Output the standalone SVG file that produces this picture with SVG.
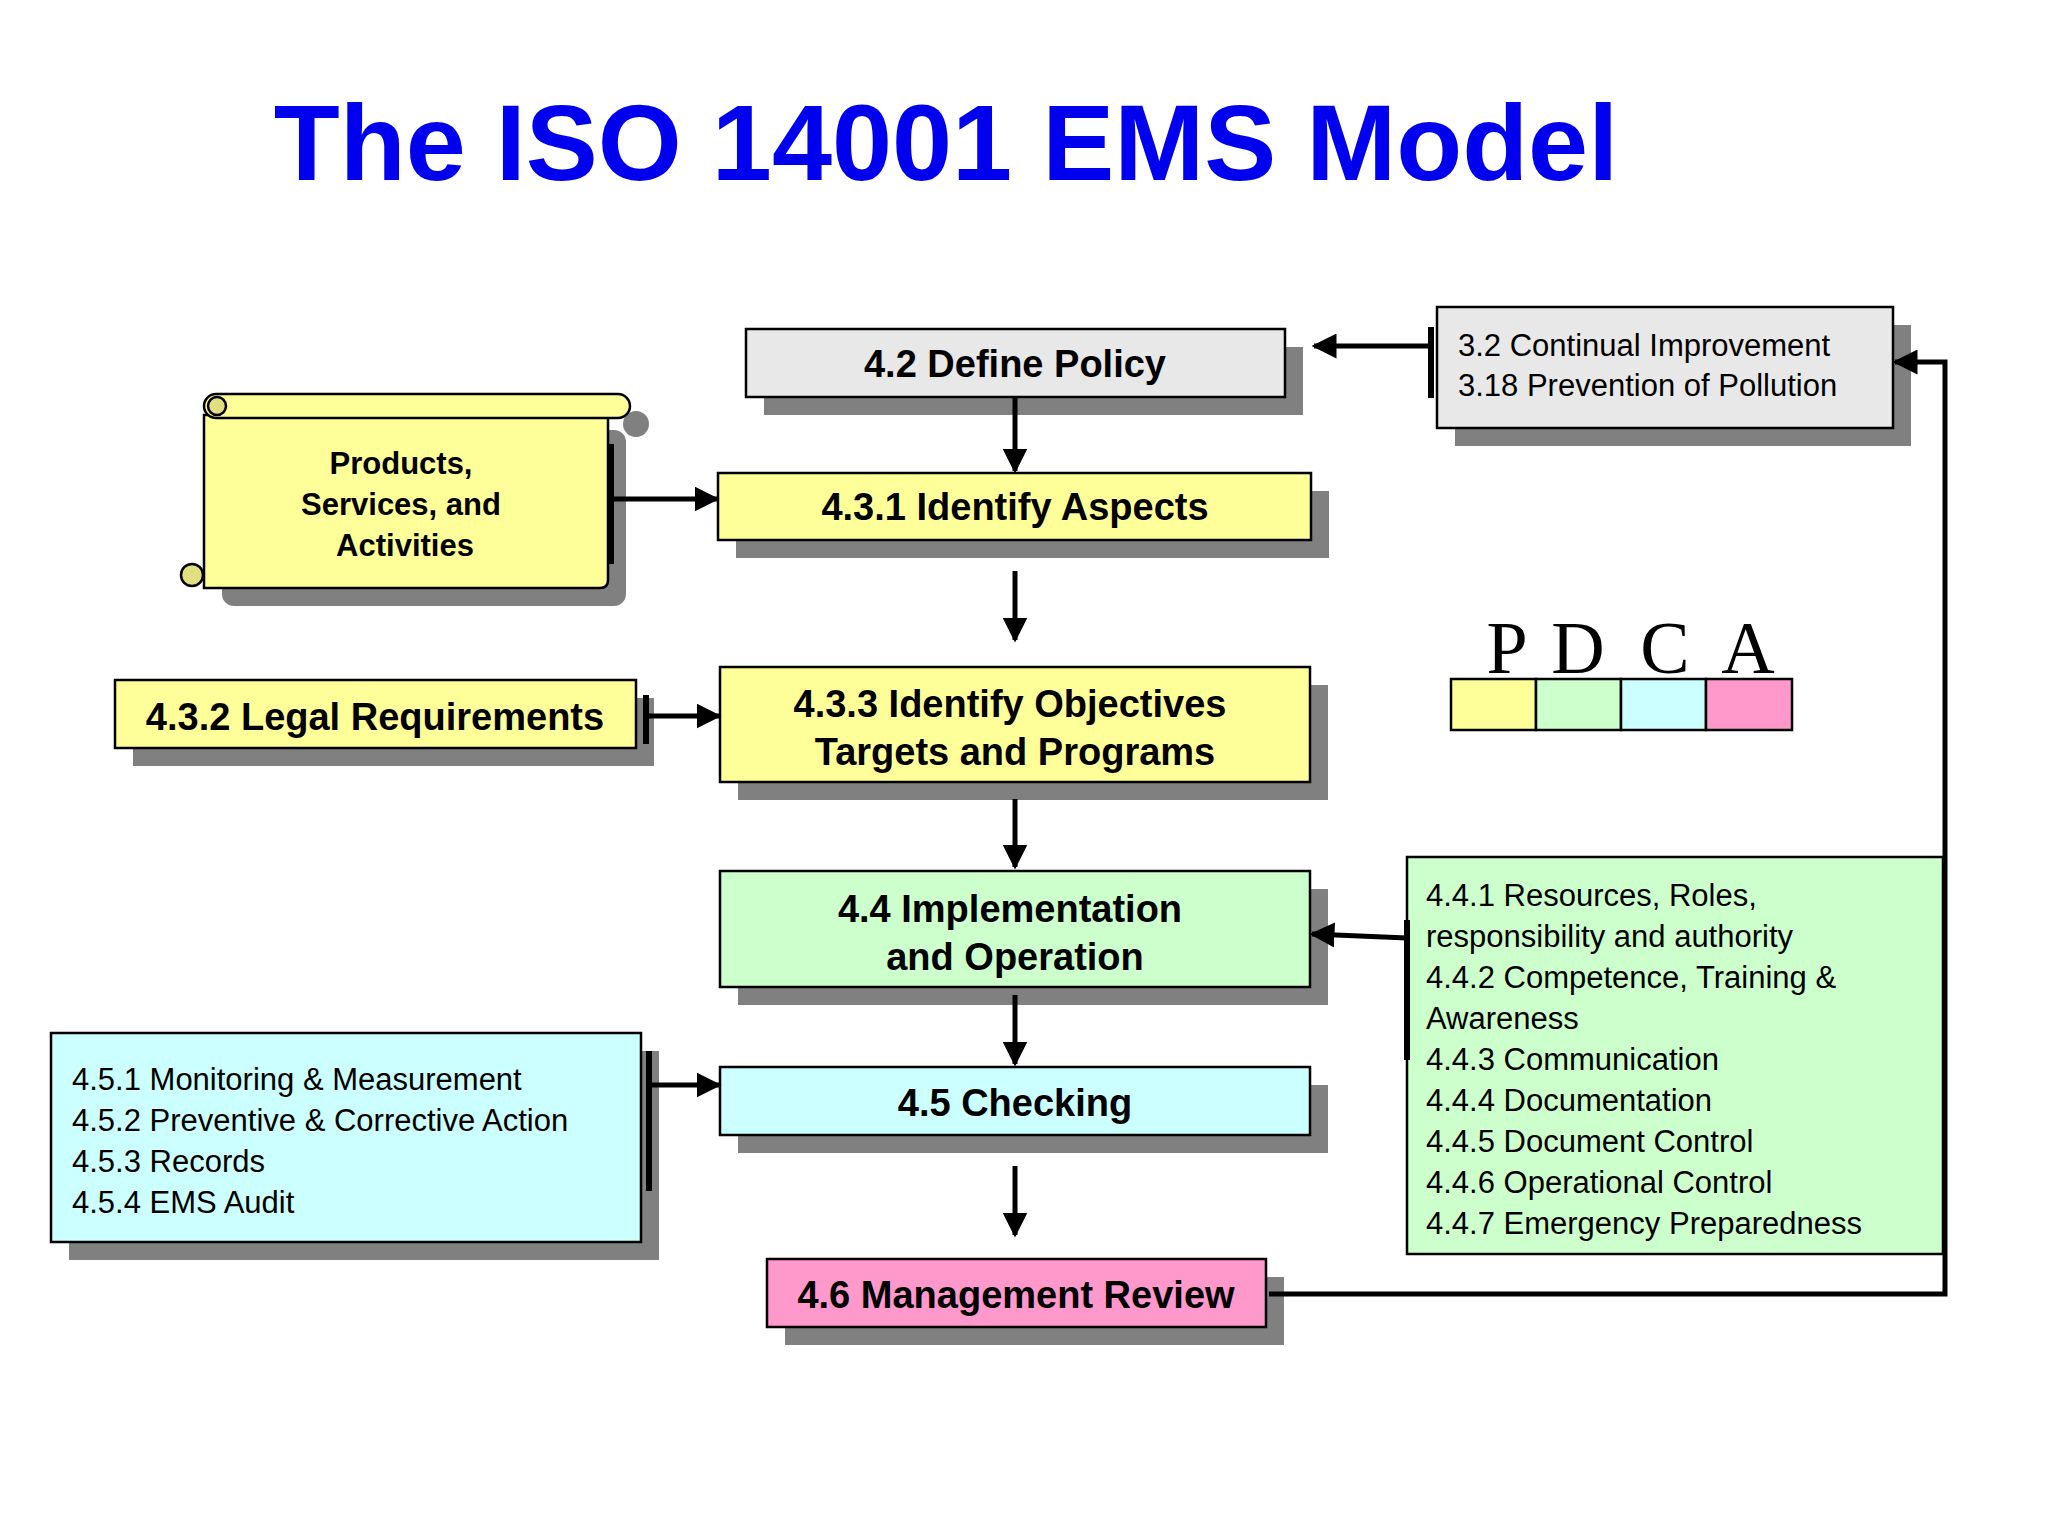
<svg xmlns="http://www.w3.org/2000/svg" width="2048" height="1536" viewBox="0 0 2048 1536">
<style>
.sh{fill:#808080}
.bx{stroke:#000;stroke-width:2.5}
.t{font-family:"Liberation Sans",Arial,sans-serif;font-weight:bold;font-size:38px;fill:#000;text-anchor:middle}
.r{font-family:"Liberation Sans",Arial,sans-serif;font-size:31px;fill:#000}
.c{fill:none;stroke:#000;stroke-width:5}
.bar{stroke:#000;stroke-width:6}
.pd{font-family:"Liberation Serif","Times New Roman",serif;font-size:74px;fill:#000;text-anchor:middle}
</style>
<defs>
<marker id="ah" markerWidth="5" markerHeight="5" refX="4.5" refY="2.5" orient="auto" markerUnits="strokeWidth">
<path d="M0,0 L5,2.5 L0,5 z" fill="#000"/>
</marker>
</defs>
<rect width="2048" height="1536" fill="#fff"/>
<text x="946" y="180" font-family="Liberation Sans,Arial,sans-serif" font-weight="bold" font-size="108" fill="#0000ee" text-anchor="middle">The ISO 14001 EMS Model</text>

<g id="define-policy"><rect class="sh" x="764" y="347" width="539" height="68"/><rect class="bx" x="746" y="329" width="539" height="68" fill="#e8e8e8"/><text class="t" x="1015" y="377">4.2 Define Policy</text></g>
<g id="continual"><rect class="sh" x="1455" y="325" width="456" height="121"/><rect class="bx" x="1437" y="307" width="456" height="121" fill="#e8e8e8"/><text class="r" x="1458" y="356">3.2 Continual Improvement</text><text class="r" x="1458" y="396">3.18 Prevention of Pollution</text></g>

<g id="scroll">
<rect class="sh" x="222" y="430" width="404" height="176" rx="12"/>
<circle class="sh" cx="636" cy="424" r="13"/>
<path class="bx" d="M204,415 L608,415 L608,580 Q608,588 600,588 L204,588 Z" fill="#ffff99"/>
<rect class="bx" x="204" y="394" width="426" height="24" rx="12" fill="#ffff99"/>
<circle class="bx" cx="217" cy="406" r="9" fill="#e0e080"/>
<circle class="bx" cx="192" cy="575" r="11" fill="#e0e080"/>
<text class="t" style="font-size:31px" x="401" y="474">Products,</text>
<text class="t" style="font-size:31px" x="401" y="515">Services, and</text>
<text class="t" style="font-size:31px" x="405" y="556">Activities</text>
</g>

<g id="aspects"><rect class="sh" x="736" y="491" width="593" height="67"/><rect class="bx" x="718" y="473" width="593" height="67" fill="#ffff99"/><text class="t" x="1015" y="520">4.3.1 Identify Aspects</text></g>
<g id="legal"><rect class="sh" x="133" y="698" width="521" height="68"/><rect class="bx" x="115" y="680" width="521" height="68" fill="#ffff99"/><text class="t" x="375" y="730">4.3.2 Legal Requirements</text></g>
<g id="objectives"><rect class="sh" x="738" y="685" width="590" height="115"/><rect class="bx" x="720" y="667" width="590" height="115" fill="#ffff99"/><text class="t" x="1010" y="717">4.3.3 Identify Objectives</text><text class="t" x="1015" y="765">Targets and Programs</text></g>

<g id="pdca">
<text class="pd" x="1507" y="673">P</text><text class="pd" x="1578" y="673">D</text><text class="pd" x="1665" y="673">C</text><text class="pd" x="1748" y="673">A</text>
<rect class="bx" x="1451" y="679" width="85" height="51" fill="#ffff99"/>
<rect class="bx" x="1536" y="679" width="85" height="51" fill="#ccffcc"/>
<rect class="bx" x="1621" y="679" width="85" height="51" fill="#ccffff"/>
<rect class="bx" x="1706" y="679" width="86" height="51" fill="#ff99cc"/>
</g>

<g id="implementation"><rect class="sh" x="738" y="889" width="590" height="116"/><rect class="bx" x="720" y="871" width="590" height="116" fill="#ccffcc"/><text class="t" x="1010" y="922">4.4 Implementation</text><text class="t" x="1015" y="970">and Operation</text></g>
<g id="impl-list"><rect class="bx" x="1407" y="857" width="536" height="397" fill="#ccffcc"/>
<text class="r" x="1426" y="906">4.4.1 Resources, Roles,</text>
<text class="r" x="1426" y="947">responsibility and authority</text>
<text class="r" x="1426" y="988">4.4.2 Competence, Training &amp;</text>
<text class="r" x="1426" y="1029">Awareness</text>
<text class="r" x="1426" y="1070">4.4.3 Communication</text>
<text class="r" x="1426" y="1111">4.4.4 Documentation</text>
<text class="r" x="1426" y="1152">4.4.5 Document Control</text>
<text class="r" x="1426" y="1193">4.4.6 Operational Control</text>
<text class="r" x="1426" y="1234">4.4.7 Emergency Preparedness</text>
</g>
<g id="check-list"><rect class="sh" x="69" y="1051" width="590" height="209"/><rect class="bx" x="51" y="1033" width="590" height="209" fill="#ccffff"/>
<text class="r" x="72" y="1090">4.5.1 Monitoring &amp; Measurement</text>
<text class="r" x="72" y="1131">4.5.2 Preventive &amp; Corrective Action</text>
<text class="r" x="72" y="1172">4.5.3 Records</text>
<text class="r" x="72" y="1213">4.5.4 EMS Audit</text>
</g>
<g id="checking"><rect class="sh" x="738" y="1085" width="590" height="68"/><rect class="bx" x="720" y="1067" width="590" height="68" fill="#ccffff"/><text class="t" x="1015" y="1116">4.5 Checking</text></g>
<g id="review"><rect class="sh" x="785" y="1277" width="499" height="68"/><rect class="bx" x="767" y="1259" width="499" height="68" fill="#ff99cc"/><text class="t" x="1016" y="1308">4.6 Management Review</text></g>

<g id="connectors">
<line class="bar" x1="1431" y1="327" x2="1431" y2="398"/>
<line class="c" x1="1431" y1="346" x2="1314" y2="346" marker-end="url(#ah)"/>
<line class="c" x1="1015" y1="397" x2="1015" y2="471" marker-end="url(#ah)"/>
<line class="c" x1="1015" y1="571" x2="1015" y2="640" marker-end="url(#ah)"/>
<line class="c" x1="1015" y1="799" x2="1015" y2="867" marker-end="url(#ah)"/>
<line class="c" x1="1015" y1="995" x2="1015" y2="1064" marker-end="url(#ah)"/>
<line class="c" x1="1015" y1="1166" x2="1015" y2="1235" marker-end="url(#ah)"/>
<line class="bar" x1="611" y1="444" x2="611" y2="564"/>
<line class="c" x1="611" y1="499" x2="717" y2="499" marker-end="url(#ah)"/>
<line class="bar" x1="646" y1="695" x2="646" y2="744"/>
<line class="c" x1="646" y1="716" x2="719" y2="716" marker-end="url(#ah)"/>
<line class="bar" x1="1407" y1="920" x2="1407" y2="1060"/>
<line class="c" x1="1407" y1="938" x2="1312" y2="934" marker-end="url(#ah)"/>
<line class="bar" x1="649" y1="1051" x2="649" y2="1191"/>
<line class="c" x1="649" y1="1085" x2="719" y2="1085" marker-end="url(#ah)"/>
<polyline class="c" points="1269,1294 1945,1294 1945,362 1895,362" marker-end="url(#ah)"/>
</g>
</svg>
